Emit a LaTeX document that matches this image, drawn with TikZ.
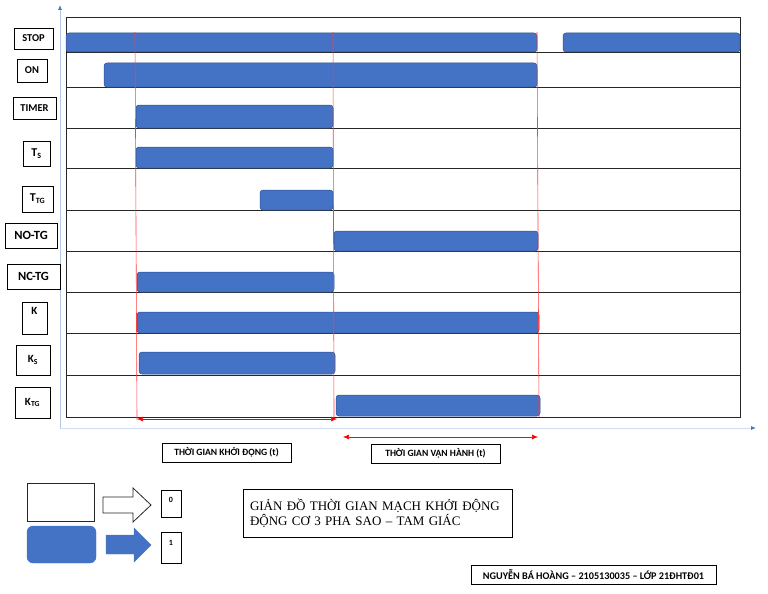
\documentclass[tikz,border=0pt]{standalone}
\usepackage{fontspec}
\setmainfont{Liberation Serif}
\newfontfamily\lblfont{Carlito}
\usetikzlibrary{arrows.meta}
\definecolor{barblue}{HTML}{4472C4}
\definecolor{bardark}{HTML}{2F528F}
\definecolor{axisblue}{HTML}{B4C7E7}
\tikzset{
    lblbox/.style={draw, inner sep=1pt, font=\lblfont\bfseries\fontsize{10.5}{11}\selectfont},
    bar/.style={fill=barblue, draw=bardark, line width=0.5pt, rounded corners=3pt},
    rowline/.style={draw=black!85, line width=0.8pt},
    redline/.style={draw=red!75, line width=0.6pt},
    span/.style={red, line width=0.6pt, {Latex[length=6pt,width=5pt]}-{Latex[length=6pt,width=5pt]}}
}
\begin{document}
\begin{tikzpicture}[x=1pt, y=-1pt]
        \useasboundingbox (0,0) rectangle (768,594);
        % axes
        \coordinate (o) at (60,428);
        \coordinate (yend) at (60,5);
        \coordinate (xend) at (756,428);
        \draw[axisblue, line width=0.8pt, -{Latex[length=5pt,width=4pt,color=barblue]}] (o) -- (yend);
        \draw[axisblue!60, line width=0.8pt, -{Latex[length=5pt,width=4pt,color=barblue]}] (o) -- (xend);
        % rows
        \draw[rowline] (66,17) rectangle (740,417);
        \foreach \y in {52,87,128,168,210,251,292,333,375} {
            \draw[rowline] (66,\y) -- (740,\y);
        }
        % signals
        \draw[bar] (66,33) rectangle (537,52);
        \draw[bar] (563,33) rectangle (740,52);
        \draw[bar] (104,63) rectangle (537,87);
        \draw[bar] (136,105) rectangle (333,128);
        \draw[bar] (136,147) rectangle (333,168);
        \draw[bar] (260,190) rectangle (333,210);
        \draw[bar] (334,231) rectangle (538,251);
        \draw[bar] (137,272) rectangle (334,292);
        \draw[bar] (137,312) rectangle (539,333);
        \draw[bar] (139,352) rectangle (335,374);
        \draw[bar] (336,395) rectangle (540,416);
        % time marks
        \coordinate (ta) at (135,32);
        \coordinate (tb) at (333,32);
        \coordinate (tc) at (537,32);
        \draw[redline] (ta) -- (137,420);
        \draw[redline] (tb) -- (334,420);
        \draw[redline] (tc) -- (539,417);
        \coordinate (sa) at (137,419);
        \coordinate (sb) at (337,419);
        \coordinate (sc) at (343,437);
        \coordinate (sd) at (538,437);
        \draw[span] (sa) -- (sb);
        \draw[span] (sc) -- (sd);
        % labels
        \node[lblbox, minimum width=39pt, minimum height=21pt] (stop) at (33.5,38.5) {STOP};
        \node[lblbox, minimum width=30pt, minimum height=23pt] (on) at (32,70.5) {ON};
        \node[lblbox, minimum width=43pt, minimum height=22pt] (timer) at (34.5,108) {TIMER};
        \node[lblbox, minimum width=27pt, minimum height=25pt, font=\lblfont\bfseries\fontsize{12}{13}\selectfont] (ts) at (36.5,153.5) {T\textsubscript{S}};
        \node[lblbox, minimum width=31pt, minimum height=26pt, font=\lblfont\bfseries\fontsize{12}{13}\selectfont] (ttg) at (37.5,199) {T\textsubscript{TG}};
        \node[lblbox, minimum width=52pt, minimum height=25pt, font=\lblfont\bfseries\fontsize{12.5}{13}\selectfont] (notg) at (31,235.5) {NO-TG};
        \node[lblbox, minimum width=53pt, minimum height=25pt, font=\lblfont\bfseries\fontsize{12.5}{13}\selectfont] (nctg) at (33.5,276.5) {NC-TG};
        \node[lblbox, minimum width=25pt, minimum height=32pt, text depth=14pt, font=\lblfont\bfseries\fontsize{11}{12}\selectfont] (k) at (34.5,318) {K};
        \node[lblbox, minimum width=34pt, minimum height=30pt, font=\lblfont\bfseries\fontsize{11}{12}\selectfont] (ks) at (33,360) {K\textsubscript{S}};
        \node[lblbox, minimum width=35pt, minimum height=31pt, font=\lblfont\bfseries\fontsize{11}{12}\selectfont] (ktg) at (32.5,402.5) {K\textsubscript{TG}};
        \node[lblbox, minimum width=129pt, minimum height=19pt, font=\lblfont\bfseries\fontsize{9.6}{10}\selectfont] (tkd) at (226.5,452.5) {THỜI GIAN KHỞI ĐỘNG (t)};
        \node[lblbox, minimum width=129pt, minimum height=19pt, font=\lblfont\bfseries\fontsize{9.6}{10}\selectfont] (tvh) at (435.5,453.5) {THỜI GIAN VẬN HÀNH (t)};
        % legend
        \draw[draw=black!85, line width=0.8pt] (27,483) rectangle (94,521);
        \draw[fill=barblue, draw=barblue, rounded corners=6pt] (27,526) rectangle (96,563);
        \draw[draw=black!85, line width=0.8pt, fill=white] (103,497) -- (133,497) -- (133,488) -- (151,505)
            -- (133,522) -- (133,513) -- (103,513) -- cycle;
        \draw[fill=barblue, draw=barblue] (106,535) -- (134,535) -- (134,528) -- (151,545)
            -- (134,562) -- (134,554) -- (106,554) -- cycle;
        \node[lblbox, minimum width=20pt, minimum height=27pt, font=\lblfont\bfseries\fontsize{8}{9}\selectfont, text depth=8pt] (zero) at (171,503.5) {0};
        \node[lblbox, minimum width=20pt, minimum height=31pt, font=\lblfont\bfseries\fontsize{8}{9}\selectfont, text depth=10pt] (one) at (171,547.5) {1};
        \node[draw, line width=0.8pt, minimum width=269pt, minimum height=48pt, align=left, text width=255pt,
            font=\fontsize{13}{15}\selectfont] (title) at (377.5,513) {GIẢN ĐỒ THỜI GIAN MẠCH KHỞI ĐỘNG\\ĐỘNG CƠ 3 PHA SAO – TAM GIÁC};
        \node[lblbox, minimum width=245pt, minimum height=19pt, font=\lblfont\bfseries\fontsize{10.2}{11}\selectfont] (author) at (593.5,574.5) {NGUYỄN BÁ HOÀNG – 2105130035 – LỚP 21ĐHTĐ01};
    \end{tikzpicture}
\end{document}
